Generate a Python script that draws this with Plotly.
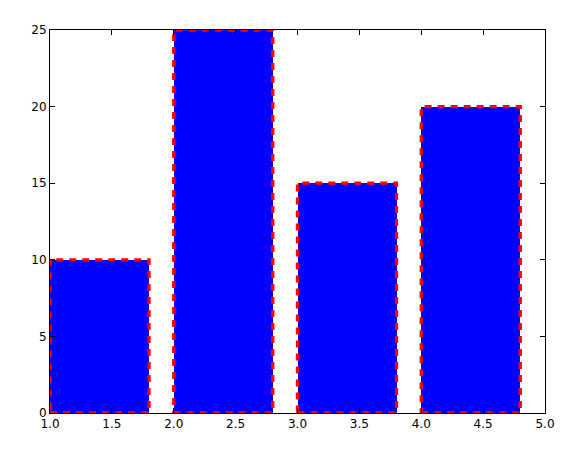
import plotly.graph_objects as go

# Bar data (left edges and heights)
x_left = [1, 2, 3, 4]
heights = [10, 25, 15, 20]
bar_width = 0.8

x_ticks = [1.0, 1.5, 2.0, 2.5, 3.0, 3.5, 4.0, 4.5, 5.0]
y_ticks = [0, 5, 10, 15, 20, 25]

fig = go.Figure()

# Blue bars
fig.add_trace(go.Bar(x=x_left, y=heights, width=bar_width, offset=0,
                     marker=dict(color='blue', line=dict(width=0)),
                     showlegend=False))

# Dashed red outline around each bar
for x0, h in zip(x_left, heights):
    x1 = x0 + bar_width
    fig.add_trace(go.Scatter(x=[x0, x1, x1, x0, x0], y=[0, 0, h, h, 0],
                             mode='lines', showlegend=False, hoverinfo='skip',
                             line=dict(color='red', width=3.3, dash='7px,6px')))

axis_style = dict(showline=True, linecolor='black', linewidth=1, mirror='ticks',
                  ticks='inside', ticklen=5, tickcolor='black', showgrid=False,
                  zeroline=False, tickfont=dict(family='DejaVu Sans', size=12, color='black'))

fig.update_xaxes(range=[1, 5], tickvals=x_ticks, ticktext=['%.1f' % t for t in x_ticks], **axis_style)
fig.update_yaxes(range=[0, 25], tickvals=y_ticks, **axis_style)

# page has an 8px body margin, so the plot box is shifted up-left to match
fig.update_layout(width=578, height=451, plot_bgcolor='white', paper_bgcolor='white',
                  margin=dict(l=42, r=41, t=22, b=46), bargap=0)

fig.write_html("out.html")
